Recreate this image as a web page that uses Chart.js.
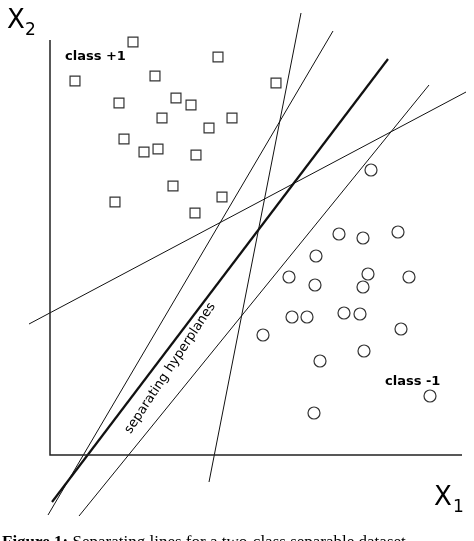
<!DOCTYPE html>
<html><head><meta charset="utf-8">
<script src="https://cdn.jsdelivr.net/npm/chart.js@4/dist/chart.umd.min.js"></script>
<style>html,body{margin:0;padding:0;background:#fff}#w{width:474px;height:541px;position:relative}</style>
</head><body><div id="w"><canvas id="c"></canvas></div>
<script>
// Data in axis units (origin at axes corner)
const classPlusX=[83,25,69,105,168,126,141,226,112,74,159,182,94,108,146,123,65,172,145];
const classPlusY=[413,374,352,379,398,357,350,372,337,316,327,337,303,306,300,269,253,258,242];
const classMinusX=[321,289,313,348,266,239,265,318,359,313,242,257,294,310,351,213,270,314,380,264];
const classMinusY=[285,221,217,223,199,178,170,181,178,168,138,138,142,141,126,120,94,104,59,42];
const lineSteep=[[251,442],[159,-27]];
const lineA=[[283,424],[-2,-60]];
const lineThick=[[338,396],[2,-47]];
const lineB=[[379,370],[29,-61]];
const lineC=[[-21,131],[416,363]];
const toPts=a=>a.map(p=>({x:p[0],y:p[1]}));
const ln=(d,w)=>({type:'line',data:toPts(d),borderColor:'#111',borderWidth:w,pointRadius:0,fill:false,showLine:true});
const annot={id:'annot',afterDraw(ch){
  const c=ch.ctx,x=ch.scales.x,y=ch.scales.y;
  c.save();c.strokeStyle='#222';c.lineWidth=1.5;
  c.beginPath();c.moveTo(x.getPixelForValue(0),y.getPixelForValue(415));
  c.lineTo(x.getPixelForValue(0),y.getPixelForValue(0));c.lineTo(x.getPixelForValue(412),y.getPixelForValue(0));c.stroke();
  c.fillStyle='#000';c.font='26px "DejaVu Sans"';c.textBaseline='alphabetic';
  c.fillText('X',x.getPixelForValue(-43),y.getPixelForValue(427));
  c.font='17px "DejaVu Sans"';c.fillText('2',x.getPixelForValue(-25),y.getPixelForValue(420));
  c.font='26px "DejaVu Sans"';c.fillText('X',x.getPixelForValue(384),y.getPixelForValue(-50));
  c.font='17px "DejaVu Sans"';c.fillText('1',x.getPixelForValue(403),y.getPixelForValue(-57));
  c.font='bold 13px "DejaVu Sans"';c.fillText('class +1',x.getPixelForValue(15),y.getPixelForValue(395));
  c.fillText('class -1',x.getPixelForValue(335),y.getPixelForValue(70));
  c.save();c.translate(x.getPixelForValue(123),y.getPixelForValue(85));c.rotate(-56.5*Math.PI/180);
  c.font='13px "DejaVu Sans"';c.textAlign='center';c.fillText('separating hyperplanes',0,0);c.restore();
  c.textAlign='left';c.font='bold 17px "Liberation Serif"';
  const bx=x.getPixelForValue(-48),by=y.getPixelForValue(-92);
  c.fillText('Figure 1:',bx,by);const w=c.measureText('Figure 1: ').width;
  c.font='17px "Liberation Serif"';c.fillText('Separating lines for a two-class separable dataset',bx+w,by);
  c.restore();}};
new Chart(document.getElementById('c'),{type:'scatter',
 data:{datasets:[
  {data:classPlusX.map((v,i)=>({x:v,y:classPlusY[i]})),pointStyle:'rect',pointRadius:7,borderColor:'#333',borderWidth:1.2,backgroundColor:'#fff'},
  {data:classMinusX.map((v,i)=>({x:v,y:classMinusY[i]})),pointStyle:'circle',pointRadius:6,borderColor:'#333',borderWidth:1.2,backgroundColor:'#fff'},
  ln(lineSteep,1),ln(lineA,1),ln(lineThick,2.2),ln(lineB,1),ln(lineC,1)]},
 options:{responsive:true,maintainAspectRatio:false,animation:false,layout:{padding:0,autoPadding:false},
  plugins:{legend:{display:false},tooltip:{enabled:false}},
  scales:{x:{type:'linear',min:-50,max:424,display:false},y:{type:'linear',min:-86,max:455,display:false}}},
 plugins:[annot]});
</script></body></html>
